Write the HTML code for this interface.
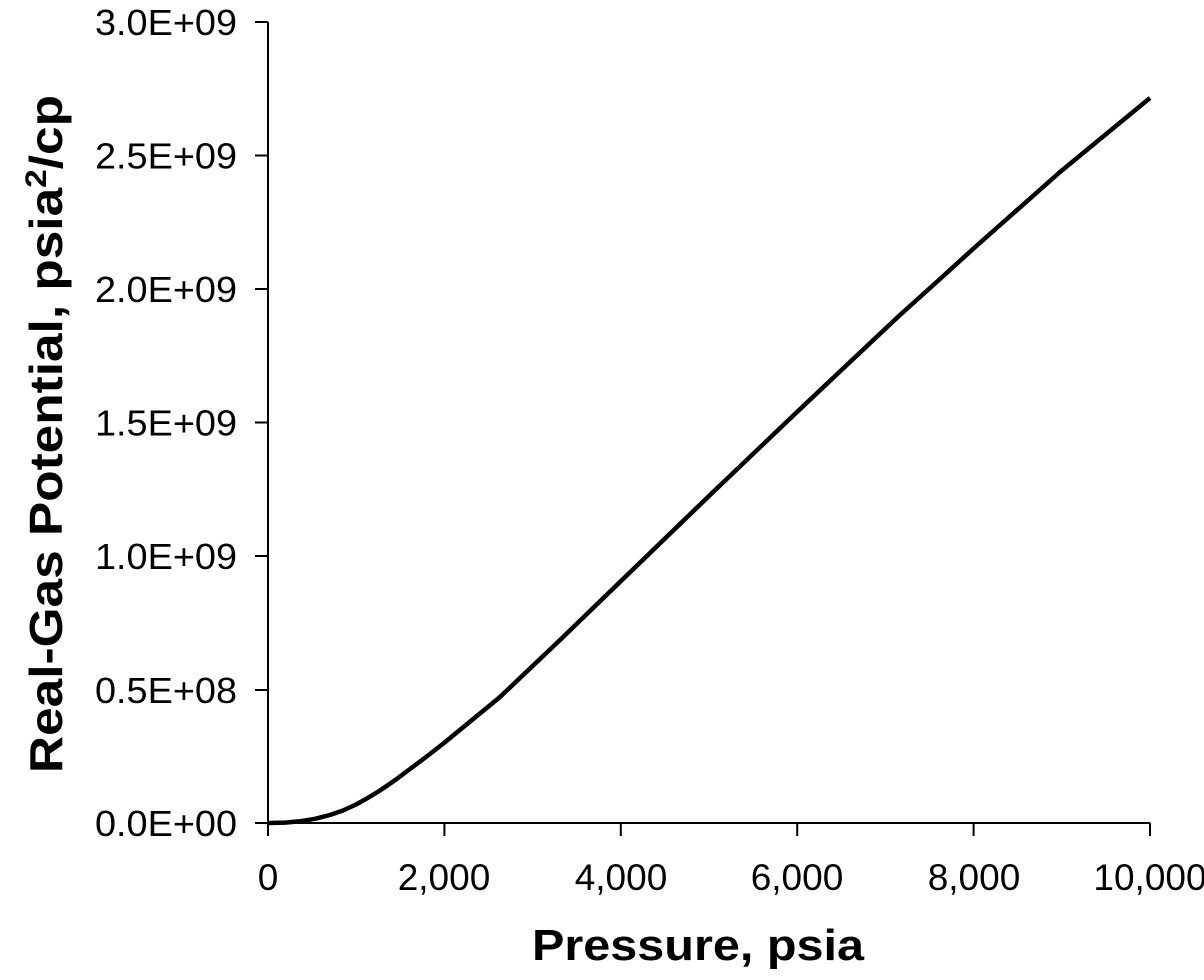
<!DOCTYPE html>
<html><head><meta charset="utf-8"><style>
body{margin:0;background:#fff;}
svg{display:block;font-family:"Liberation Sans",sans-serif;}
</style></head><body>
<svg width="1204" height="980" viewBox="0 0 1204 980">
<g stroke="#000" stroke-width="2" fill="none">
<line x1="268" y1="22" x2="268" y2="824"/>
<line x1="255" y1="823" x2="1150" y2="823"/>
<line x1="255" y1="22" x2="268" y2="22"/>
<line x1="255" y1="155.5" x2="268" y2="155.5"/>
<line x1="255" y1="289" x2="268" y2="289"/>
<line x1="255" y1="422.5" x2="268" y2="422.5"/>
<line x1="255" y1="556" x2="268" y2="556"/>
<line x1="255" y1="690" x2="268" y2="690"/>
<line x1="268" y1="823" x2="268" y2="836"/>
<line x1="444.4" y1="823" x2="444.4" y2="836"/>
<line x1="620.8" y1="823" x2="620.8" y2="836"/>
<line x1="797.2" y1="823" x2="797.2" y2="836"/>
<line x1="973.6" y1="823" x2="973.6" y2="836"/>
<line x1="1150" y1="823" x2="1150" y2="836"/>
</g>
<polyline points="268,823 285,822.6 300,821.3 315,818.8 330,815 343,810.5 356,804.5 368,797.8 380,790.5 396,779.5 412,767.5 428,755.5 444,743 472,720 500,697 560,640 621,581 710,495 797,412 850,362 900,315 940,279 973,249 1060,172 1150,98" stroke="#000" stroke-width="4.5" fill="none" stroke-linejoin="round"/>
<g font-size="36" text-anchor="end" fill="#000">
<text x="237" y="35" textLength="142" lengthAdjust="spacingAndGlyphs">3.0E+09</text>
<text x="237" y="168.5" textLength="142" lengthAdjust="spacingAndGlyphs">2.5E+09</text>
<text x="237" y="302" textLength="142" lengthAdjust="spacingAndGlyphs">2.0E+09</text>
<text x="237" y="435.5" textLength="142" lengthAdjust="spacingAndGlyphs">1.5E+09</text>
<text x="237" y="569" textLength="142" lengthAdjust="spacingAndGlyphs">1.0E+09</text>
<text x="237" y="703" textLength="142" lengthAdjust="spacingAndGlyphs">0.5E+08</text>
<text x="237" y="836" textLength="142" lengthAdjust="spacingAndGlyphs">0.0E+00</text>
</g>
<g font-size="37" text-anchor="middle" fill="#000">
<text x="268" y="890">0</text>
<text x="444" y="890">2,000</text>
<text x="621" y="890">4,000</text>
<text x="797" y="890">6,000</text>
<text x="974" y="890">8,000</text>
<text x="1150" y="890">10,000</text>
</g>
<text x="532" y="960" font-size="44" font-weight="bold" textLength="332" lengthAdjust="spacingAndGlyphs">Pressure, psia</text>
<text transform="translate(62,773) rotate(-90)" font-size="46" font-weight="bold" textLength="678" lengthAdjust="spacingAndGlyphs">Real-Gas Potential, psia<tspan font-size="30" dy="-16">2</tspan><tspan dy="16">/cp</tspan></text>
</svg>
</body></html>
